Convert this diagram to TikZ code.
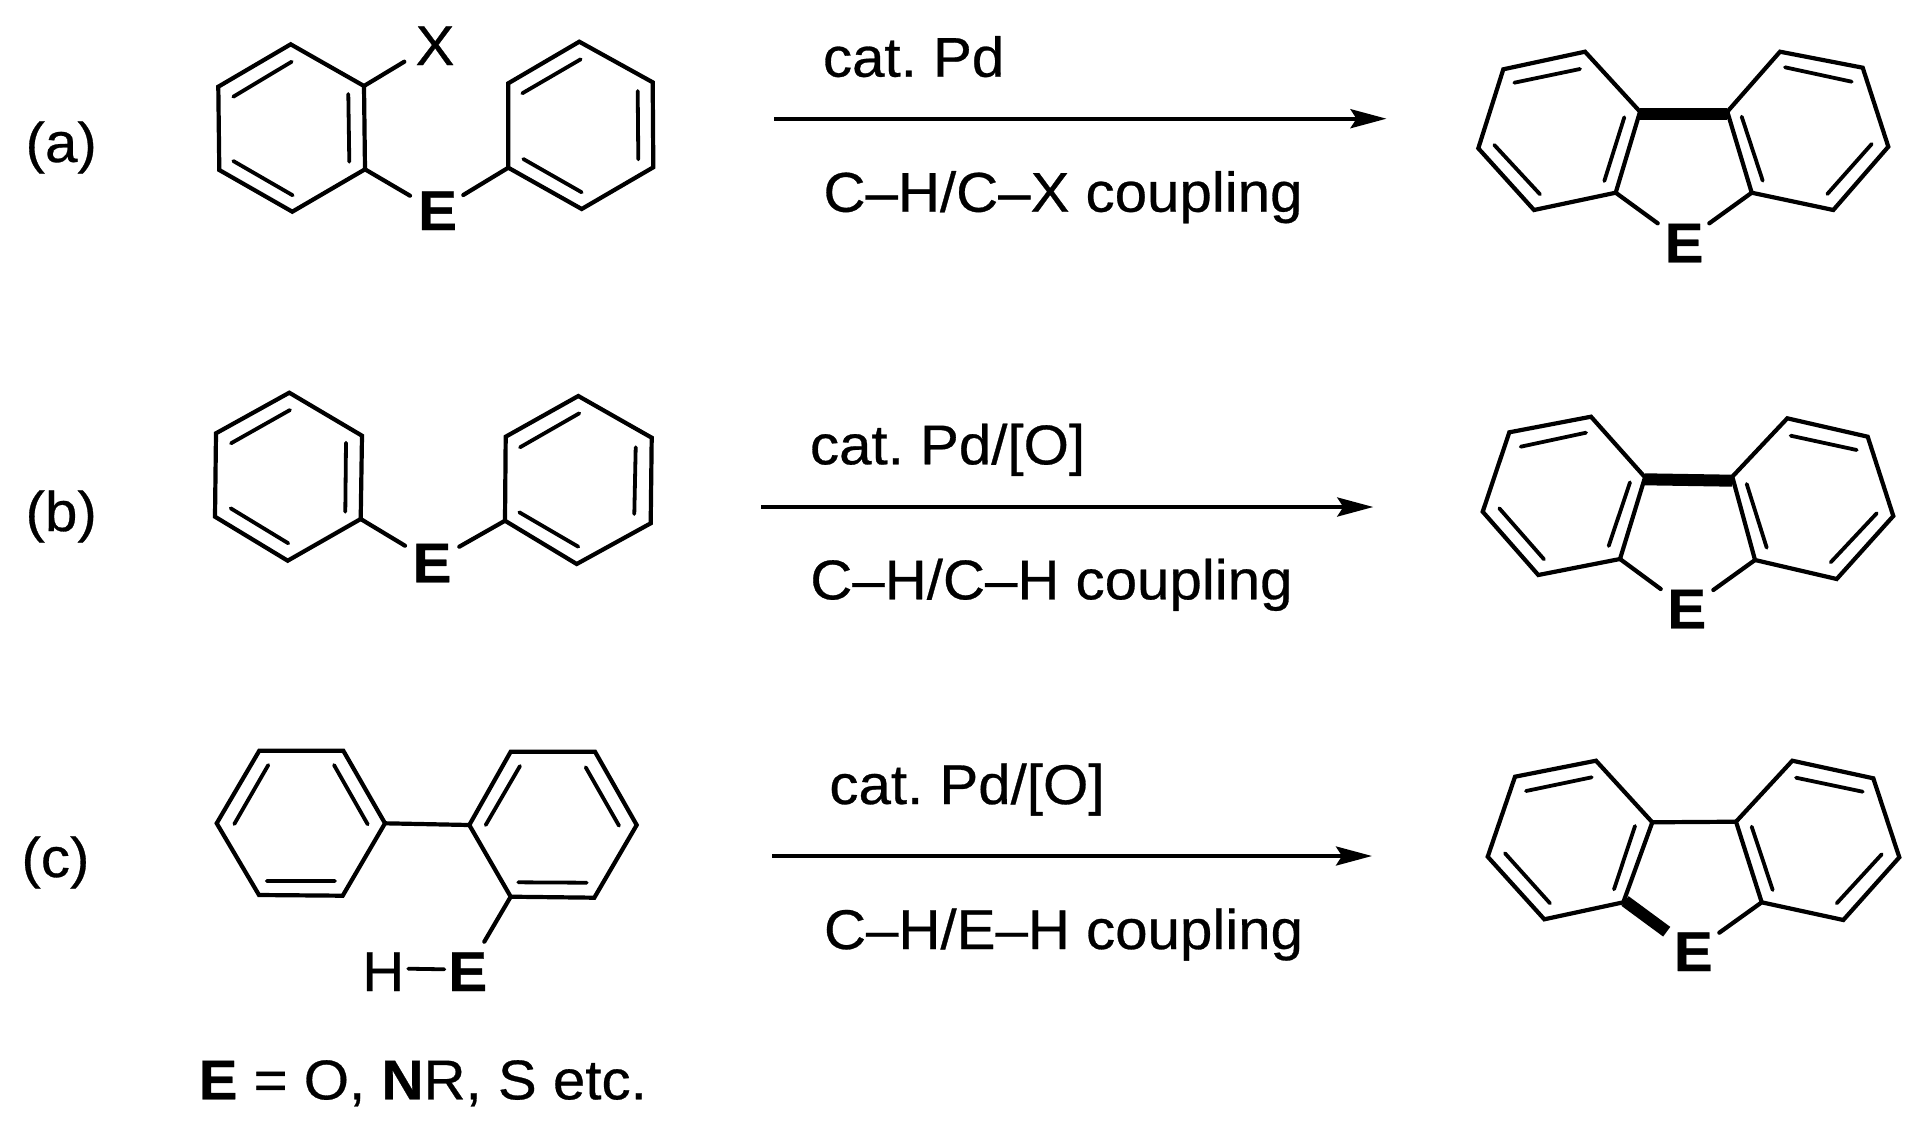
\documentclass[tikz,border=0pt]{standalone}
\usepackage{fontspec}
\setmainfont[FakeStretch=1.04,FakeBold=0.5]{Liberation Sans}
\frenchspacing
\usetikzlibrary{arrows.meta}
\tikzset{
  x=1pt,y=-1pt,
  bond/.style={line width=4.2pt,line join=miter,line cap=round,black},
  inner/.style={line width=3.8pt,line cap=round,black},
  thick bond/.style={line width=12pt,line cap=butt,black},
  rxn/.style={line width=3.8pt,-{Stealth[length=36pt,width=19pt,inset=6pt]},black},
  txt/.style={anchor=base west,inner sep=0pt,outer sep=0pt,font=\fontsize{56}{60}\selectfont},
  atom/.style={anchor=base,inner sep=0pt,outer sep=0pt,font=\fontsize{56}{60}\selectfont},
  batom/.style={atom,font=\fontsize{56}{60}\selectfont\bfseries}
}
\begin{document}
\begin{tikzpicture}
\useasboundingbox (0,0) rectangle (1920,1125);
\fill[white] (0,0) rectangle (1920,1125);
% labels
\node[txt] (la) at (25.6,162) {(a)};
\node[txt] (lb) at (25.6,531) {(b)};
\node[txt] (lc) at (21.5,877) {(c)};
% scheme (a) substrate
\draw[bond] (290.7,44.3)--(364,86)--(365,169.3)--(292.3,211.7)--(219.3,170)--(218.3,86.7)--cycle;
\draw[inner] (291.7,61.7)--(233.3,96.7) (348.3,94)--(349.3,161.7) (233.3,161)--(292.7,195.3);
\draw[bond] (579.3,41.7)--(652.7,82.3)--(653.3,167.3)--(581.7,209)--(508.3,167.7)--(508.3,83.3)--cycle;
\draw[inner] (580.7,59.3)--(522.3,93.3) (637.7,91)--(638.3,159.3) (523.3,159)--(581.7,192.3);
\draw[bond] (364,86)--(404.3,61.7);
\draw[bond] (365,169.3)--(410,195.7);
\draw[bond] (508.3,167.7)--(463.3,195);
\node[atom] (ax) at (435,65) {X};
\node[batom] (ae) at (437.6,230) {E};
% scheme (a) product
\draw[bond] (1640,111.7)--(1585,51.7)--(1503.3,69.3)--(1478.3,148.3)--(1534,210)--(1615.7,192.7)--cycle;
\draw[inner] (1580,69)--(1514.3,82.7) (1494.3,145)--(1540,194.3) (1624.3,117.3)--(1604.3,181);
\draw[bond] (1727.3,111.7)--(1780,51.7)--(1862.7,67.7)--(1888.3,146.7)--(1833.3,210)--(1751.7,192.7)--cycle;
\draw[inner] (1741.7,116.7)--(1762.7,180.7) (1785,67.3)--(1851.7,81.7) (1871.7,144)--(1827.3,194);
\draw[thick bond] (1640,114.3)--(1727.3,114.3);
\draw[bond] (1615.7,192.7)--(1657.7,223.3);
\draw[bond] (1751.7,192.7)--(1709.3,223.3);
\node[batom] (pae) at (1684,262.3) {E};
% scheme (b) substrate
\draw[bond] (289.3,392.7)--(362,435.7)--(360.7,519)--(287.7,560.7)--(215,516.7)--(216,433.3)--cycle;
\draw[inner] (290,410)--(231,443.3) (346,442.7)--(345.3,511.7) (230.7,508.3)--(288.3,543.3);
\draw[bond] (578.3,396)--(651.7,437.7)--(650.7,523.3)--(576.7,564)--(505,520.7)--(505.7,436.7)--cycle;
\draw[inner] (579.3,413.3)--(520,447.3) (635.7,447.3)--(634.3,514) (519.3,512.3)--(578.3,546.7);
\draw[bond] (360.7,519)--(405,545.7);
\draw[bond] (505,520.7)--(459.3,546.7);
\node[batom] (be) at (432,582.3) {E};
% scheme (b) product
\draw[bond] (1645,477.3)--(1591,416.7)--(1509.3,432.3)--(1482.7,511.7)--(1538.3,575)--(1620,559)--cycle;
\draw[inner] (1586,432.7)--(1520.7,446.7) (1499.3,508.3)--(1544,559.3) (1630,482.3)--(1608.7,546);
\draw[bond] (1732.3,476.7)--(1787.3,418.3)--(1867.7,436.7)--(1893.3,516)--(1836.7,579)--(1755,560)--cycle;
\draw[inner] (1856.7,450)--(1790.7,435.7) (1876.7,513.3)--(1830.7,562.3) (1746.7,484)--(1766.7,547.7);
\draw[thick bond] (1645,479.3)--(1732.3,480.7);
\draw[bond] (1620,559)--(1660.7,589);
\draw[bond] (1755,560)--(1713.3,590);
\node[batom] (pbe) at (1686.7,628.3) {E};
% scheme (c) substrate
\draw[bond] (259.3,750.7)--(343.3,750.7)--(385,823.3)--(342.7,895.7)--(259,895)--(216.7,823.3)--cycle;
\draw[inner] (268.3,765)--(234.3,824) (334,765)--(367.7,824.3) (266.7,881)--(335,881);
\draw[bond] (510.7,751.7)--(595,751.7)--(636.7,825)--(594.3,897.7)--(510.7,896.7)--(469.3,825)--cycle;
\draw[inner] (520,766)--(485.7,825) (585.7,767.3)--(619,825.7) (518.3,882.3)--(586.7,882.7);
\draw[bond] (385,823.3)--(469.3,825);
\draw[bond] (510.7,896.7)--(484.3,941.7);
\node[atom] (ch) at (383.3,991) {H};
\node[batom] (ce) at (467.7,991) {E};
\draw[inner] (408.3,968.7)--(444.3,969.3);
\node[txt] (legend) at (198.6,1099.3) {\textbf{E} = O, \textbf{N}R, S etc.};
% scheme (c) product
\draw[bond] (1652.3,822.3)--(1596,760.7)--(1515,776.7)--(1487.7,856.7)--(1544.3,919.3)--(1623.3,902.3)--cycle;
\draw[inner] (1591.7,777.3)--(1526,791) (1505,853.3)--(1550,903.3) (1635,826)--(1614,889.3);
\draw[bond] (1736,821.7)--(1792.3,760.7)--(1873.3,778.3)--(1899.3,857.3)--(1843.3,920)--(1761.7,902.3)--cycle;
\draw[inner] (1796,777.7)--(1862.7,791.7) (1881.7,854.3)--(1836.7,903.3) (1751.7,826.7)--(1772.7,890);
\draw[bond] (1652.3,822.3)--(1736,821.7);
\draw[thick bond] (1625,901)--(1666.7,931.7);
\draw[bond] (1761.7,902.3)--(1719.3,932.7);
\node[batom] (pce) at (1693.3,971) {E};
% arrows
\coordinate (as) at (774.3,118.7); \coordinate (at) at (1386.5,118.7);
\coordinate (bs) at (761,507); \coordinate (bt) at (1373.3,507);
\coordinate (cs) at (772,856); \coordinate (ct) at (1372,856);
\draw[rxn] (as)--(at);
\draw[rxn] (bs)--(bt);
\draw[rxn] (cs)--(ct);
% conditions
\node[txt] (t1) at (823,76.7) {cat. Pd};
\node[txt] (t2) at (823.5,211.7) {C–H/C–X coupling};
\node[txt] (t3) at (810,464.3) {cat. Pd/[O]};
\node[txt] (t4) at (810.3,599.3) {C–H/C–H coupling};
\node[txt] (t5) at (829.4,804) {cat. Pd/[O]};
\node[txt] (t6) at (824,949) {C–H/E–H coupling};
\end{tikzpicture}
\end{document}
